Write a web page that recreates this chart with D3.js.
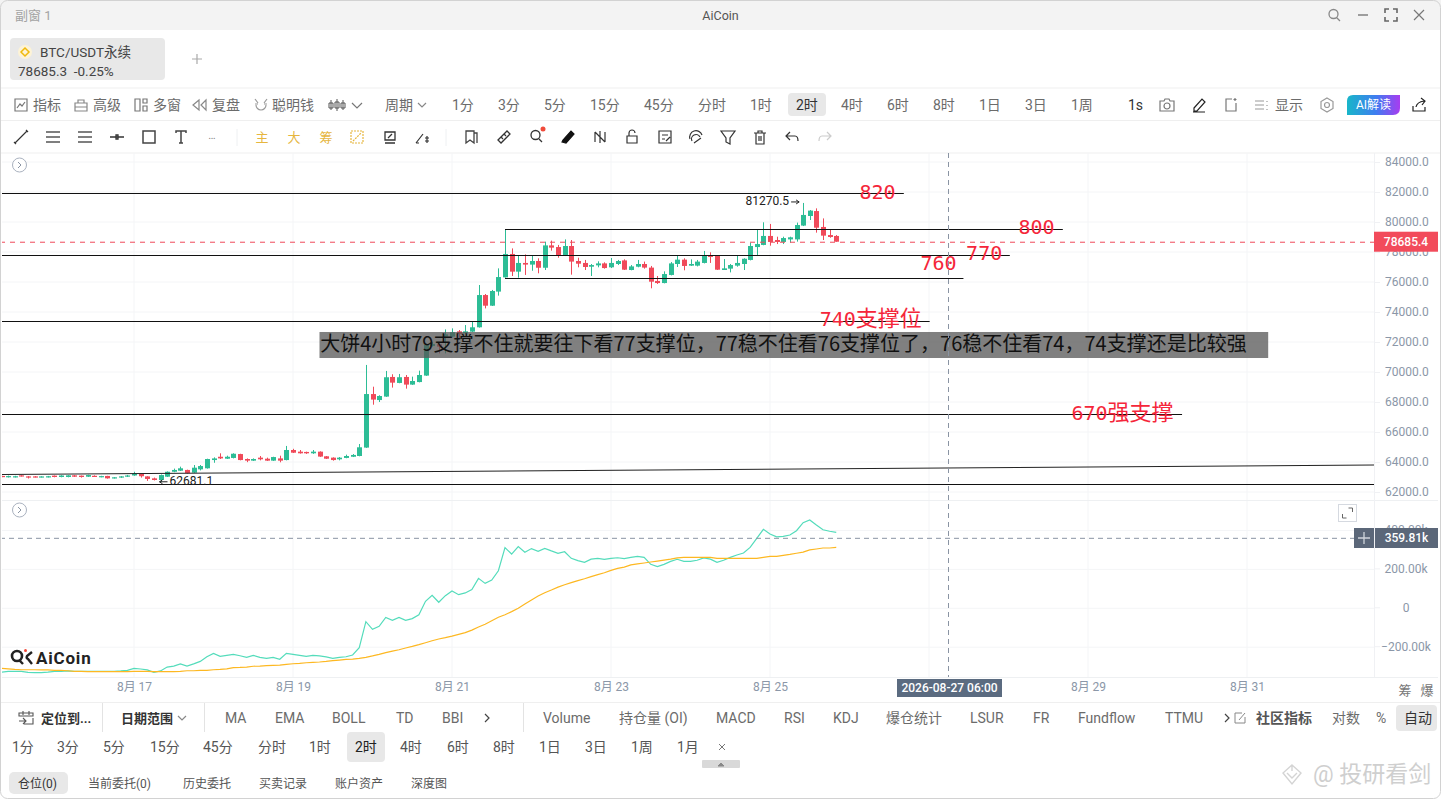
<!DOCTYPE html>
<html>
<head>
<meta charset="utf-8">
<title>AiCoin</title>
<script src="https://cdn.jsdelivr.net/npm/d3@7"></script>
<style>
  html, body { margin: 0; padding: 0; background: #fff; overflow: hidden; }
  text { font-family: Roboto, "Noto Sans CJK SC", sans-serif; }
  .cn { font-family: "Noto Sans CJK SC", sans-serif; }
</style>
</head>
<body>
<script>
// candles, 2h bars starting 2026-08-15 08:00
var opens = [
  63070,63000,62990,63110,63040,63040,62990,62990,63090,63000,
  63000,63110,63090,63020,63080,63000,63070,62920,62960,63020,
  63100,63200,63040,62910,62800,63020,63350,63420,63470,63290,
  63510,63580,64130,64350,64220,64270,64530,64200,64090,64290,
  64220,64090,64240,64130,64800,64690,64670,64580,64690,64380,
  64290,64180,64270,64350,64400,64960,68530,68130,68360,69670,
  69270,69670,69160,69330,69760,71730,71850,72360,72360,72710,
  72580,72690,72980,75130,74420,75360,76310,77870,76690,77270,
  77160,77400,76950,78440,78330,77800,78400,77400,77270,77020,
  77110,77240,76980,77200,77440,76800,77020,77200,76960,76070,
  75930,76470,77200,77490,77090,77090,77270,77750,77750,76800,
  76890,77090,77200,77470,78330,78470,79070,78800,78670,78840,
  78840,79760,80400,80730,79670,79130,79070];
var closes = [
  63000,63060,63050,63040,62960,62990,63040,63050,63000,63100,
  63110,63020,63000,63130,63020,63060,62910,62980,63040,63100,
  63220,63050,62870,62800,63130,63350,63470,63580,63250,63620,
  63730,64200,64240,64240,64350,64550,64130,64090,64200,64180,
  64090,64330,64090,64800,64620,64580,64580,64690,64360,64220,
  64130,64290,64400,64470,64980,68530,68160,68400,69650,69290,
  69650,69160,69400,69800,71800,71870,71690,72510,72650,72530,
  72710,72980,75130,74420,75400,76330,77870,76690,77270,77160,
  77400,76950,78440,78290,77780,78400,77360,77220,77000,77130,
  77240,76930,77270,77400,76820,77040,77200,76960,76020,75930,
  76530,77240,77490,77070,77200,77360,77750,77690,76820,76910,
  77130,77270,77550,78400,78530,79070,78670,78670,78930,78980,
  79800,80470,80760,79620,79090,79000,78685.3];
var highs = [
  63080,63090,63080,63120,63060,63060,63050,63070,63100,63120,
  63120,63130,63100,63150,63110,63080,63080,62990,63060,63140,
  63350,63240,63050,62960,63170,63370,63560,63690,63490,63800,
  63800,64220,64310,64580,64420,64580,64550,64240,64240,64400,
  64290,64350,64420,65070,64880,64800,64690,64800,64710,64400,
  64310,64330,64490,64530,65200,70470,69020,68450,70070,69850,
  69870,69800,69690,70090,71900,72000,71900,72840,72910,72800,
  73130,73360,75800,75200,75470,76910,79510,78240,77750,77840,
  77750,77580,78690,78760,78470,78840,78800,77620,77470,77200,
  77380,77310,77600,77470,77510,77130,77470,77360,77070,76400,
  76710,77330,77750,77580,77510,77470,78070,77980,77780,77530,
  77200,77750,77580,78620,79470,79980,79870,79020,79020,79020,
  79960,81270.5,80800,80910,80240,79470,79130];
var lows = [
  62990,62970,62970,63030,62900,62970,62970,62970,62980,62980,
  62980,63000,62960,63000,63000,62980,62890,62900,62940,63000,
  63080,62960,62740,62770,62681.1,63000,63320,63400,63230,63270,
  63440,63560,63950,64200,64200,64240,64110,63990,64070,64110,
  64070,64070,63980,64110,64600,64560,64540,64540,64340,64200,
  64090,64110,64250,64330,64380,64940,67820,68000,68340,68960,
  69250,68890,69140,69310,69740,71700,71240,71240,72340,72240,
  72560,72670,72960,74240,74400,75090,76290,76400,76290,76470,
  76750,76580,76800,78090,77620,77730,76490,76980,76800,76400,
  76980,76890,76930,77130,76800,76780,76980,76890,75580,75870,
  75910,76440,77000,76780,77070,77040,77240,77270,76800,76800,
  76640,77020,76800,77440,77730,78450,78420,78530,78530,78620,
  78690,79730,80130,79290,78800,78950,78680];

// lower panel, values in thousands
var fastLine = [
  -329,-324,-324,-324,-329,-331,-331,-328,-324,-324,
  -322,-324,-324,-324,-324,-324,-324,-324,-322,-319,
  -309,-312,-317,-329,-322,-302,-297,-286,-297,-286,
  -273,-249,-232,-247,-242,-237,-244,-252,-242,-252,
  -257,-252,-262,-232,-237,-242,-247,-242,-245,-250,
  -257,-252,-249,-240,-202,-69,-108,-93,-47,-62,
  -47,-62,-53,-33,36,67,31,65,89,70,
  79,97,154,128,145,193,312,279,317,288,
  307,293,308,295,283,291,257,245,236,253,
  257,252,257,260,255,262,267,262,226,214,
  226,241,252,241,241,247,259,253,236,247,
  262,274,284,313,360,406,382,367,370,377,
  399,440,454,428,404,396,390];
var slowLine = [
  -309,-311,-314,-316,-316,-316,-317,-317,-319,-319,
  -321,-324,-324,-326,-326,-326,-326,-326,-326,-326,
  -324,-324,-324,-326,-326,-326,-326,-324,-321,-321,
  -319,-319,-316,-314,-311,-305,-304,-302,-298,-297,
  -295,-293,-292,-288,-285,-283,-280,-278,-276,-273,
  -269,-266,-263,-261,-257,-252,-245,-237,-228,-220,
  -213,-204,-196,-187,-177,-167,-158,-151,-143,-134,
  -125,-112,-96,-82,-64,-46,-33,-17,0,22,
  43,63,80,94,109,121,132,142,152,163,
  173,183,195,205,212,223,228,233,238,243,
  248,253,259,262,262,262,262,262,257,257,
  257,257,257,257,257,262,267,267,272,277,
  283,289,300,305,310,310,313];

var priceTicks = [84000,82000,80000,78000,76000,74000,72000,70000,68000,66000,64000,62000];
var lowerTicks = [400,200,0,-200];
var dayTicks = [17,19,21,23,25,27,29,31];
var dayLabels = [17,19,21,23,25,29,31];

// drawn lines on the chart
var levelPrices = [81870,79510,77780,76250,73380,67180,62467];
var levelFrom   = [0,76,0,76,0,0,0];
var levelTo     = [136.2,160.2,152.2,145.2,140.1,178.2,207.3];
var trendPrices = [63167,63800];
var trendBars   = [0,207.3];

var noteNumbers = ["820","800","770","760","740","670"];
var noteWords   = ["","","","","支撑位","强支撑"];
var noteBars    = [129.5,153.5,145.6,138.7,123.5,161.5];
var notePrices  = [81533,79167,77500,76800,73087,66800];
var bandText = "大饼4小时79支撑不住就要往下看77支撑位，77稳不住看76支撑位了，76稳不住看74，74支撑还是比较强";

var lastPrice = 78685.4;
var crossValue = 359.81;
var crossBar = 143;

// window chrome labels
var topLabels = ["指标","高级","多窗","复盘","聪明钱","周期","1分","3分","5分","15分","45分","分时","1时","2时","4时","6时","8时","1日","3日","1周","1s","显示"];
var topLabelX = [33,93,153,212,272,385,452,498,544,590,644,698,750,796,841,887,933,979,1025,1071,1128,1275];
var bottomLabels = ["MA","EMA","BOLL","TD","BBI","Volume","持仓量 (OI)","MACD","RSI","KDJ","爆仓统计","LSUR","FR","Fundflow","TTMU","对数","%","自动"];
var bottomLabelX = [225,275,332,396,442,543,619,716,784,833,886,970,1033,1078,1165,1332,1376,1404];
var periodLabels = ["1分","3分","5分","15分","45分","分时","1时","2时","4时","6时","8时","1日","3日","1周","1月"];
var periodLabelX = [12,57,103,150,203,258,309,355,400,447,493,539,585,631,677];
var tabLabels = ["仓位(0)","当前委托(0)","历史委托","买卖记录","账户资产","深度图"];
var tabLabelX = [18,88,183,259,335,411];

var width = 1441, height = 799;
var green = "#2dbd96", red = "#f04a5a", axisGrey = "#8b97a8", gridGrey = "#f4f5f7", labelGrey = "#6b6b6b";

var startTime = Date.UTC(2026,7,15,8);
function barTime(i) { return new Date(startTime + i * 2 * 3600 * 1000); }

var x = d3.scaleUtc()
    .domain([Date.UTC(2026,7,17), Date.UTC(2026,7,31)])
    .range([134, 1247]);
var y = d3.scaleLinear().domain([84000,62000]).range([162,492]);
var y2 = d3.scaleLinear().domain([400,-200]).range([530.5,647.2]);

var svg = d3.select("body").append("svg")
    .attr("width", width)
    .attr("height", height)
    .style("display", "block");

svg.append("defs").append("clipPath").attr("id","mainClip")
    .append("rect").attr("x",2).attr("y",153).attr("width",1372).attr("height",347);
svg.append("defs").append("clipPath").attr("id","lowerClip")
    .append("rect").attr("x",2).attr("y",501).attr("width",1372).attr("height",176);
var grad = svg.append("defs").append("linearGradient").attr("id","aiGrad");
grad.append("stop").attr("offset","0%").attr("stop-color","#18b6c9");
grad.append("stop").attr("offset","55%").attr("stop-color","#3f7cf0");
grad.append("stop").attr("offset","100%").attr("stop-color","#a83cf0");

// text helper
function label(t, px, py, size, color, weight, anchor) {
    return svg.append("text").attr("x",px).attr("y",py)
        .attr("font-size",size).attr("fill",color)
        .attr("font-weight",weight || 400)
        .attr("text-anchor",anchor || "start")
        .attr("dominant-baseline","central")
        .text(t);
}
// small line icon, path is relative to the icon centre
function icon(px, py, d, color, sw, fill) {
    return svg.append("path").attr("transform","translate("+px+","+py+")")
        .attr("d",d).attr("fill",fill || "none")
        .attr("stroke",color).attr("stroke-width",sw || 1.2);
}
function hline(py, x1, x2, color) {
    svg.append("line").attr("x1",x1).attr("x2",x2).attr("y1",py).attr("y2",py).attr("stroke",color);
}
function vline(px, y1, y2, color) {
    svg.append("line").attr("x1",px).attr("x2",px).attr("y1",y1).attr("y2",y2).attr("stroke",color);
}

//---------- window frame ----------
svg.append("rect").attr("x",0).attr("y",0).attr("width",width).attr("height",30).attr("fill","#f3f3f3");
label("副窗 1",15,15,13,"#a3a3a3");
label("AiCoin",720.5,15.5,12.5,"#555",400,"middle");
icon(1334,15,"M-5-1a4.5 4.5 0 1 0 9 0a4.5 4.5 0 1 0-9 0M2.5 2.5L6 6","#888",1.3);
icon(1363,15,"M-5 0H5","#888",1.6);
icon(1391,15,"M-6-2V-6H-2M2-6H6V-2M6 2V6H2M-2 6H-6V2","#666",1.6);
icon(1419,15,"M-5-5L5 5M5-5L-5 5","#777",1.2);

// instrument tab
svg.append("rect").attr("x",10).attr("y",38).attr("width",155).attr("height",42).attr("rx",4).attr("fill","#e8e8e8");
svg.append("circle").attr("cx",25).attr("cy",52).attr("r",7).attr("fill","#fdf3d6");
icon(25,52,"M0-4L4 0L0 4L-4 0Z","#f0b90b",1.5);
label("BTC/USDT永续",40,52,13.5,"#444");
label("78685.3  -0.25%",18,71,13.5,"#444").style("white-space","pre");
icon(197,59,"M-5 0H5M0-5V5","#aaa",1.2);

hline(88,0,width,"#efefef");
hline(120.5,0,width,"#efefef");
hline(153,0,width,"#efefef");

//---------- top toolbar ----------
svg.append("rect").attr("x",788).attr("y",93).attr("width",38).attr("height",23).attr("rx",4).attr("fill","#e8e8e8");
topLabels.forEach(function(t,i){
    label(t, topLabelX[i], 105, 14, t==="2时"||t==="1s" ? "#333" : labelGrey);
});
icon(21,105,"M-6-6H6V6H-6ZM-4 3L-1-1L1 1L4-3","#777");
icon(81,105,"M-6-2H6V6H-6ZM-3-2V-5H3V-2M-6 2H6","#888");
icon(141,105,"M-6-6H-1V6H-6ZM2-6H6V-2H2ZM2 1H6V6H2Z","#777");
icon(200,105,"M-1-5L-7 0L-1 5ZM6-5L1 0L6 5Z","#888");
icon(261,105,"M-6-6L-3-2M6-6L3-2M-5 0a5 5 0 1 0 10 0M-6-1H-3M3-1H6","#999");
icon(337,105,"M-6-5V5M-6-2H-4V3H-8V-2ZM0-6V6M2-3H-2V3H2ZM6-5V5M8-2H4V3H8Z","#555",1);
icon(357,105,"M-5-2L0 3L5-2","#777");
icon(422,105,"M-4-2L0 2L4-2","#888");
icon(1167,105,"M-7-4H-3L-2-6H2L3-4H7V6H-7ZM-3 1a3 3 0 1 0 6 0a3 3 0 1 0-6 0","#777");
icon(1199,105,"M-5 3L3-6L6-3L-2 6H-5ZM-6 7H6","#222");
icon(1231,105,"M1-6H-5V6H5V-2M4-7V-4M2.5-5.5H5.5","#777");
icon(1261,105,"M-6-4H3M-6 0H3M-6 4H3M6-4V-3M6 0V1M6 4V5","#999");
icon(1327,105,"M0-7L6-3.5V3.5L0 7L-6 3.5V-3.5ZM-2.5 0a2.5 2.5 0 1 0 5 0a2.5 2.5 0 1 0-5 0","#999");
svg.append("path").attr("d","M1353 95H1400V108Q1400 115 1393 115H1347V101Q1347 95 1353 95Z").attr("fill","url(#aiGrad)");
label("AI解读",1373.5,105,12,"#fff",400,"middle");
icon(1419,105,"M-6 1V6H6V2M-3 2Q-2-3 5-4M2-7L6-4L3 0","#222");

//---------- drawing toolbar ----------
icon(21,137,"M-6 6L6-6M-7 5L-5 7M5-7L7-5","#333");
icon(53,137,"M-7-5H7M-7 5H7M-7 0H7","#555",1.4);
icon(85,137,"M-7-5H7M-7 5H7M-7 0H7","#555",1.4);
icon(117,137,"M-7 0H7M-1-2H1V2H-1Z","#333",1.3);
icon(149,137,"M-6-6H6V6H-6Z","#444",1.5);
icon(181,137,"M-5-4V-6H5V-4M0-6V6M-2 6H2","#444",1.5);
label("…",212,135,11,"#888",400,"middle");
vline(237,129,146,"#eef0f2");
label("主",262,137,13,"#e6b63e",400,"middle");
label("大",294,137,13,"#e6b63e",400,"middle");
label("筹",326,137,13,"#e6b63e",400,"middle");
icon(357,137,"M-6-6H6V6H-6ZM-4 4L4-4","#e6b63e",1.2).attr("stroke-dasharray","2 1");
icon(390,137,"M-5-5H5V3H-5ZM-2 1L2-3M-5 6H5","#333",1.3);
icon(422,137,"M-6 6L1-3M-6 6H-3M3 1H7M3 4H7M5-1V6","#333",1.2);
vline(446,129,146,"#eef0f2");
icon(471,137,"M-5-6H3V6L-1 3L-5 6ZM3-4H6V6","#444",1.3);
icon(504,137,"M-6 3L3-6L6-3L-3 6ZM-3 0L-1 2M0-3L2-1","#333",1.3);
icon(536,136,"M-5-1a4.5 4.5 0 1 0 9 0a4.5 4.5 0 1 0-9 0M3 3L6 6","#333",1.3);
svg.append("circle").attr("cx",543).attr("cy",129).attr("r",2.5).attr("fill","#f04a3a");
icon(568,137,"M-6 5L-2 6L6-3L3-6L-5 3Z","#111",1.2,"#111");
icon(600,137,"M-5-5V5M5-5V5M0-6V6M-5-5L5 5","#333",1.2);
icon(632,137,"M-5-1H5V6H-5ZM-3-1V-4a3 3 0 0 1 6 0","#333",1.2);
icon(665,137,"M-6-6H6V6H-6ZM-3-2H3M-3 2H0M1 4L5 0","#333",1.2);
icon(696,137,"M-6 2a6 6 0 0 1 12-4M-4 4a4 4 0 0 1 8-4M-2 6L5 1","#333",1.2);
icon(728,137,"M-7-6H7L2 1V7L-2 5V1Z","#333",1.2);
icon(760,137,"M-6-4H6M-2-4V-6H2V-4M-4-4V7H4V-4M-1-1V4M1-1V4","#333",1.2);
icon(792,137,"M-2-5L-6-1L-2 3M-6-1H3Q6-1 6 4","#333",1.2);
icon(825,137,"M2-5L6-1L2 3M6-1H-3Q-6-1-6 4","#ccc",1.2);

//---------- grid ----------
var gridG = svg.append("g");
gridG.selectAll(".gridX").data(dayTicks).enter().append("line")
    .attr("class","gridX")
    .attr("x1",function(d){ return x(Date.UTC(2026,7,d)); })
    .attr("x2",function(d){ return x(Date.UTC(2026,7,d)); })
    .attr("y1",153).attr("y2",677).attr("stroke",gridGrey);
gridG.selectAll(".gridY").data(priceTicks).enter().append("line")
    .attr("class","gridY")
    .attr("x1",2).attr("x2",1374)
    .attr("y1",function(d){ return y(d); })
    .attr("y2",function(d){ return y(d); })
    .attr("stroke",gridGrey);
gridG.selectAll(".gridY2").data(lowerTicks).enter().append("line")
    .attr("class","gridY2")
    .attr("x1",2).attr("x2",1374)
    .attr("y1",function(d){ return y2(d); })
    .attr("y2",function(d){ return y2(d); })
    .attr("stroke",gridGrey);
hline(500.5,2,1438,"#eef0f2");
hline(677.5,2,1438,"#eef0f2");
vline(1374.5,153,677,"#f0f1f4");

//---------- candles ----------
var main = svg.append("g").attr("clip-path","url(#mainClip)");
var bars = d3.range(opens.length);
function barColor(i) { return closes[i] >= opens[i] ? green : red; }

main.selectAll(".wick").data(bars).enter().append("line")
    .attr("class","wick")
    .attr("x1",function(i){ return Math.round(x(barTime(i)))+0.5; })
    .attr("x2",function(i){ return Math.round(x(barTime(i)))+0.5; })
    .attr("y1",function(i){ return y(highs[i]); })
    .attr("y2",function(i){ return y(lows[i]); })
    .attr("stroke",barColor);
main.selectAll(".body").data(bars).enter().append("rect")
    .attr("class","body")
    .attr("x",function(i){ return Math.round(x(barTime(i)))-2; })
    .attr("width",5)
    .attr("y",function(i){ return y(Math.max(opens[i],closes[i])); })
    .attr("height",function(i){ return Math.max(1.2, Math.abs(y(opens[i])-y(closes[i]))); })
    .attr("fill",barColor);

// user drawn levels, snapped so they stay one crisp pixel
main.selectAll(".level").data(levelPrices).enter().append("line")
    .attr("class","level")
    .attr("x1",function(d,i){ return x(barTime(levelFrom[i])); })
    .attr("x2",function(d,i){ return x(barTime(levelTo[i])); })
    .attr("y1",function(d){ return Math.floor(y(d))+0.5; })
    .attr("y2",function(d){ return Math.floor(y(d))+0.5; })
    .attr("stroke","#111").attr("stroke-width",1);
main.append("line")
    .attr("x1",x(barTime(trendBars[0]))).attr("y1",y(trendPrices[0]))
    .attr("x2",x(barTime(trendBars[1]))).attr("y2",y(trendPrices[1]))
    .attr("stroke","#222").attr("stroke-width",1.1);

// last price line
main.append("line").attr("x1",0).attr("x2",1374)
    .attr("y1",y(lastPrice)+0.5).attr("y2",y(lastPrice)+0.5)
    .attr("stroke",red).attr("stroke-dasharray","5 5");

// high / low markers
var hiBar = highs.indexOf(d3.max(highs)), loBar = lows.indexOf(d3.min(lows));
svg.append("text").attr("class","hi")
    .attr("x",x(barTime(hiBar))-14).attr("y",y(highs[hiBar])-1.5)
    .attr("text-anchor","end").attr("dominant-baseline","central")
    .attr("font-size",12).attr("fill","#222")
    .text(d3.format(".1f")(highs[hiBar]));
icon(x(barTime(hiBar))-5,y(highs[hiBar])-1,"M-7 0H1M-2-2L1 0L-2 2","#222",1);
svg.append("text").attr("class","lo")
    .attr("x",x(barTime(loBar))+9).attr("y",y(lows[loBar])-1)
    .attr("dominant-baseline","central")
    .attr("font-size",12).attr("fill","#222")
    .text(d3.format(".1f")(lows[loBar]));
icon(x(barTime(loBar))+1,y(lows[loBar]),"M-2 0H6M1-2L-2 0L1 2","#222",1);

// comment band over the candles
svg.append("rect")
    .attr("x",x(barTime(48))).attr("width",x(barTime(191.2))-x(barTime(48)))
    .attr("y",y(72667)).attr("height",y(70933)-y(72667))
    .attr("fill","#555").attr("fill-opacity",0.75);
svg.append("text").attr("class","cn")
    .attr("x",x(barTime(48.1))).attr("y",y(71400))
    .attr("font-size",20).attr("fill","#111")
    .text(bandText);

var notes = svg.selectAll(".note").data(noteNumbers).enter().append("text")
    .attr("class","note")
    .attr("x",function(d,i){ return x(barTime(noteBars[i])); })
    .attr("y",function(d,i){ return y(notePrices[i]); })
    .attr("fill","#f5263a");
notes.append("tspan")
    .attr("font-family","'DejaVu Sans Mono'").attr("font-size",20)
    .text(function(d){ return d; });
notes.append("tspan")
    .attr("font-family","'Noto Sans CJK SC'").attr("font-size",22)
    .text(function(d,i){ return noteWords[i]; });

//---------- lower panel ----------
var lower = svg.append("g").attr("clip-path","url(#lowerClip)");
var lineGen = d3.line()
    .x(function(d,i){ return x(barTime(i)); })
    .y(function(d){ return y2(d); });
lower.append("path").datum(fastLine).attr("d",lineGen)
    .attr("fill","none").attr("stroke","#54dcbb").attr("stroke-width",1.2);
lower.append("path").datum(slowLine).attr("d",lineGen)
    .attr("fill","none").attr("stroke","#fdb822").attr("stroke-width",1.2);
lower.append("line").attr("x1",0).attr("x2",1354)
    .attr("y1",y2(crossValue)).attr("y2",y2(crossValue))
    .attr("stroke","#8a94a3").attr("stroke-dasharray","5 4");

// crosshair
svg.append("line").attr("x1",Math.round(x(barTime(crossBar)))-0.5).attr("x2",Math.round(x(barTime(crossBar)))-0.5)
    .attr("y1",153).attr("y2",677)
    .attr("stroke","#8a94a3").attr("stroke-dasharray","5 4");

//---------- axes ----------
var priceAxis = d3.axisRight(y).tickValues(priceTicks).tickSize(6).tickPadding(5)
    .tickFormat(d3.format(".1f"));
var priceG = svg.append("g").attr("transform","translate(1374,0)").call(priceAxis);
priceG.select(".domain").remove();
priceG.selectAll("line").attr("stroke","#f0f1f4");
priceG.selectAll("text").attr("fill",axisGrey).attr("font-size",12)
    .attr("font-family","Roboto");

var lowerAxis = d3.axisRight(y2).tickValues(lowerTicks).tickSize(6).tickPadding(5)
    .tickFormat(function(d){ return d === 0 ? "0" : d3.format(".2f")(d)+"k"; });
var lowerG = svg.append("g").attr("transform","translate(1374,-1)").call(lowerAxis);
lowerG.select(".domain").remove();
lowerG.selectAll("line").attr("stroke","#f0f1f4");
lowerG.selectAll("text").attr("fill",axisGrey).attr("font-size",12)
    .attr("font-family","Roboto").attr("x",32).attr("text-anchor","middle");

var timeAxis = d3.axisBottom(x)
    .tickValues(dayLabels.map(function(d){ return new Date(Date.UTC(2026,7,d)); }))
    .tickSize(0).tickPadding(4)
    .tickFormat(function(d){ return "8月 "+d.getUTCDate(); });
var timeG = svg.append("g").attr("transform","translate(0,678)").call(timeAxis);
timeG.select(".domain").remove();
timeG.selectAll("text").attr("fill",axisGrey).attr("font-size",12)
    .attr("font-family","Roboto, 'Noto Sans CJK SC'");

// value tags
svg.append("rect").attr("x",1374).attr("y",y(lastPrice)-10).attr("width",64).attr("height",20).attr("fill","#f24b5b");
label(d3.format(".1f")(lastPrice),1406,y(lastPrice),12,"#fff",500,"middle");
svg.append("rect").attr("x",1354).attr("y",528).attr("width",20).attr("height",20).attr("fill","#5b6779");
icon(1364,538,"M-6 0H6M0-6V6","#cfd4db",1.3);
svg.append("rect").attr("x",1375).attr("y",528).attr("width",63).attr("height",20).attr("fill","#5b6779");
label(crossValue+"k",1406.5,538,12,"#fff",500,"middle");
svg.append("rect").attr("x",897).attr("y",679).attr("width",105).attr("height",18).attr("fill","#5b6b80");
label("2026-08-27 06:00",949.5,688,12,"#fff",500,"middle");
label("筹",1405,690,13,"#777",400,"middle");
label("爆",1427,690,13,"#777",400,"middle");

// panel buttons
[165,510].forEach(function(cy){
    svg.append("circle").attr("cx",19.5).attr("cy",cy).attr("r",7).attr("fill","#fff").attr("stroke","#aab2bf");
    icon(19.5,cy,"M-1.5-3L1.5 0L-1.5 3","#8a94a3",1);
});
svg.append("rect").attr("x",1338.5).attr("y",504.5).attr("width",18).attr("height",17).attr("fill","#fff").attr("stroke","#d5d9e0");
icon(1347.5,513,"M-5 1V5H-1M1-5H5V-1","#666",1);

// logo
svg.append("circle").attr("cx",17).attr("cy",656).attr("r",5).attr("fill","none").attr("stroke","#222").attr("stroke-width",2.6);
icon(21,661,"M-2-1L2 3","#222",2.4);
icon(29,657,"M3-5L-2-1Q-3 1-1 2L3 7","#222",2.4);
svg.append("circle").attr("cx",25.5).attr("cy",650.5).attr("r",1.5).attr("fill","#f04a3a");
label("AiCoin",36,657.5,17,"#222",700).style("letter-spacing","0.8px");

//---------- bottom bars ----------
hline(702.5,0,width,"#efefef");
vline(102.5,703,732,"#e3e3e3");
vline(204.5,703,732,"#e3e3e3");
vline(523.5,703,732,"#e3e3e3");
icon(26,718,"M-7-5H7V-2H-7ZM-3-7V-3M3-7V-3M7 0V6H-2M-7 3H0M-3 0L0 3L-3 6","#555",1.1);
label("定位到...",41,718,13,"#333",700);
label("日期范围",121,718,13,"#333",700);
icon(182,718,"M-4-2L0 2L4-2","#888");
icon(487,718,"M-2-4L2 0L-2 4","#444");
svg.append("rect").attr("x",1396).attr("y",705).attr("width",41).attr("height",26).attr("rx",4).attr("fill","#e8e8e8");
bottomLabels.forEach(function(t,i){
    label(t, bottomLabelX[i], 718, 14, t==="自动" ? "#333" : labelGrey);
});
icon(1227,718,"M-2-4L2 0L-2 4","#444");
icon(1240,718,"M-5-5H2M-5-5V5H5V-1M-1 2L5-5","#888",1);
label("社区指标",1256,718,14,"#555",700);

svg.append("rect").attr("x",347).attr("y",732).attr("width",38).attr("height",30).attr("rx",4).attr("fill","#e8e8e8");
periodLabels.forEach(function(t,i){
    label(t, periodLabelX[i], 747, 14, t==="2时" ? "#222" : "#555");
});
icon(722,747,"M-3-3L3 3M3-3L-3 3","#777",1);
svg.append("rect").attr("x",702).attr("y",760).attr("width",38).attr("height",8).attr("rx",1).attr("fill","#d9d9d9");
icon(721,764,"M-3 2L0-1L3 2Z","#888",1,"#888");

svg.append("rect").attr("x",9).attr("y",772).attr("width",59).attr("height",22).attr("rx",5).attr("fill","#e8e8e8");
tabLabels.forEach(function(t,i){
    label(t, tabLabelX[i], 783.5, 12, i===0 ? "#333" : "#555");
});

// watermark
icon(1292,775,"M0-10L9-2L0 9L-9-2ZM-5-2L0 3L5-2M0-10V-4","#d4d4d4",1.4);
label("@ 投研看剑",1313,774,23,"#cfcfcf");

// window outline
svg.append("rect").attr("x",0.5).attr("y",0.5).attr("width",width-1).attr("height",height-1).attr("rx",7)
    .attr("fill","none").attr("stroke","#d2d2d2");
</script>
</body>
</html>
